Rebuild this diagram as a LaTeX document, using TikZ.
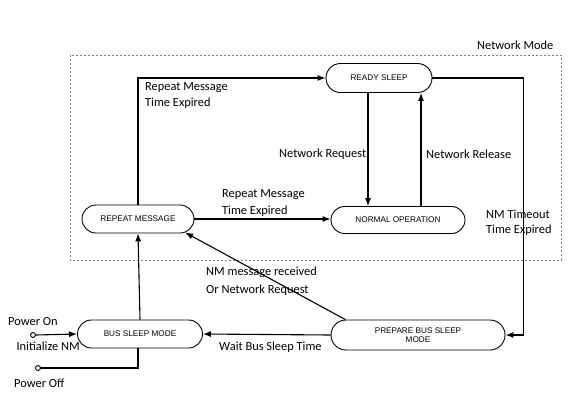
\documentclass[tikz,border=0pt]{standalone}
\usepackage{fontspec}
\setmainfont{Carlito}
\newfontfamily\nodefont{Liberation Sans}
\usetikzlibrary{arrows.meta,shapes.misc}
\begin{document}
\begin{tikzpicture}[x=1pt,y=-1pt,
  state/.style={draw,line width=0.9pt,rounded rectangle,inner sep=0pt,font=\nodefont\fontsize{8.2}{9.5}\selectfont,align=center},
  arr/.style={line width=1.1pt,-{Latex[length=8pt,width=6pt]}},
  ln/.style={line width=1.1pt},
  lbl/.style={font=\fontsize{12.4}{15}\selectfont,inner sep=0pt,anchor=west,align=left},
  term/.style={circle,draw,line width=0.9pt,inner sep=0pt,minimum size=5pt,fill=white}]
\useasboundingbox[fill=white] (0,0) rectangle (586,400);
\draw[gray,line width=0.6pt,dash pattern=on 2pt off 2pt] (70,55) rectangle (561,260);
\node[lbl] (nm) at (477,45) {Network Mode};
\node[state,minimum width=106,minimum height=29] (rs) at (379,78) {READY SLEEP};
\node[state,minimum width=112,minimum height=28] (rm) at (138,219) {REPEAT MESSAGE};
\node[state,minimum width=134,minimum height=27] (no) at (398,220) {NORMAL OPERATION};
\node[state,minimum width=125,minimum height=28] (bs) at (140,334) {BUS SLEEP MODE};
\node[state,minimum width=174,minimum height=30] (pb) at (418,335) {PREPARE BUS SLEEP\\MODE};
\node[term] (pon) at (33,335) {};
\node[term] (poff) at (38,368) {};
% connectors
\draw[arr] (rm.north) |- (rs.west);
\draw[arr] (rm.east) -- (no.west |- rm.east);
\draw[arr] ([xshift=-11pt]rs.south) -- ([xshift=-11pt]rs.south |- no.north);
\draw[arr] ([xshift=42pt]rs.south |- no.north) -- ([xshift=42pt]rs.south);
\draw[arr] (rs.east) -- ++(91,0) |- (pb.east);
\draw[arr] (pb.168) -- (rm.-16);
\draw[arr] (pb.west) -- (bs.east);
\draw[arr] (bs.north) -- (rm.south);
\draw[arr] (pon.east) -- (bs.west);
\draw[ln] (poff.east) -| ([xshift=-2pt]bs.south);
% labels
\node[lbl] (l1) at (145,88) {Repeat Message};
\node[lbl] (l2) at (145,103) {Time Expired};
\node[lbl] (l3) at (222,195) {Repeat Message};
\node[lbl] (l4) at (222,211) {Time Expired};
\node[lbl] (l5) at (279,154) {Network Request};
\node[lbl] (l6) at (426,154) {Network Release};
\node[lbl] (l7) at (486,214) {NM Timeout};
\node[lbl] (l8) at (486,230) {Time Expired};
\node[lbl] (l9) at (206,272) {NM message received};
\node[lbl] (l10) at (206,290) {Or Network Request};
\node[lbl] (l11) at (219,347) {Wait Bus Sleep Time};
\node[lbl] (l12) at (8,322) {Power On};
\node[lbl,anchor=east] (l13) at (80,346) {Initialize NM};
\node[lbl] (l14) at (14,383) {Power Off};
\end{tikzpicture}
\end{document}
